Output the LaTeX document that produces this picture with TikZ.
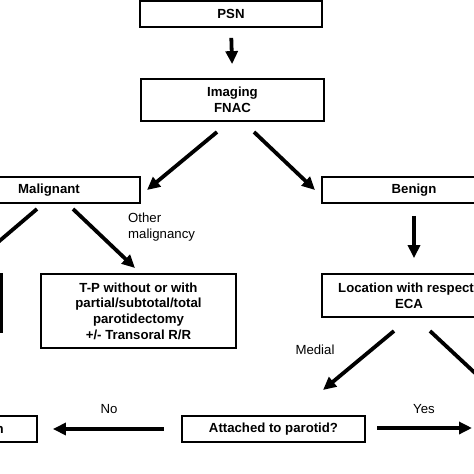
\documentclass[tikz,border=0pt]{standalone}
\usepackage{fontspec}
\setmainfont{Liberation Sans}
\usetikzlibrary{arrows.meta}
\begin{document}
\begin{tikzpicture}[x=1pt,y=-1pt,
  box/.style={draw,line width=1.8pt,inner sep=0pt,align=center,font=\fontsize{13.2}{15.7}\selectfont\bfseries},
  btxt/.style={font=\fontsize{13.2}{15.7}\selectfont\bfseries,inner sep=0pt},
  arr/.style={line width=3.8pt,-{Triangle[length=13pt,width=12pt]}},
  lbl/.style={font=\fontsize{13.2}{15.7}\selectfont,align=left,inner sep=0pt}]
\useasboundingbox (0,0) rectangle (474,474);
\clip (0,0) rectangle (474,474);
\fill[white] (0,0) rectangle (474,474);
% boxes
\node[box,minimum width=182pt,minimum height=26pt] (psn) at (231,14) {PSN};
\node[box,minimum width=183pt,minimum height=42pt] (img) at (232.5,100) {Imaging\\FNAC};
\node[box,minimum width=182pt,minimum height=26pt] (mal) at (49,190) {Malignant};
\node[box,minimum width=184pt,minimum height=26pt] (ben) at (414,190) {Benign};
\node[box,minimum width=195pt,minimum height=74pt] (tp) at (138.5,311) {T-P without or with\\partial/subtotal/total\\parotidectomy\\+/- Transoral R/R};
\node[box,minimum width=176pt,minimum height=43pt] (loc) at (410,295.5) {};
\node[btxt,anchor=base west] (loct) at (338,292.5) {Location with respect};
\node[btxt,anchor=base] (eca) at (409,308.5) {ECA};
\node[box,minimum width=183pt,minimum height=26pt] (att) at (273.5,429) {Attached to parotid?};
\node[box,minimum width=137pt,minimum height=26pt] (lb) at (-31.5,429) {};
\node[btxt,anchor=base east] (lbt) at (4,433.5) {n};
% partial thick edge at left
\coordinate (e1) at (1,273);
\coordinate (e2) at (1,333);
\draw[line width=3.8pt] (e1) -- (e2);
% arrows
\draw[arr,shorten <=10pt,shorten >=14pt] (psn.south) -- (img.north);
\coordinate (a1) at (217,132); \coordinate (a2) at (147,190);
\draw[arr] (a1) -- (a2);
\coordinate (b1) at (254,132); \coordinate (b2) at (315,190);
\draw[arr] (b1) -- (b2);
\coordinate (c1) at (37,209); \coordinate (c2) at (-10,249);
\draw[line width=3.8pt] (c1) -- (c2);
\coordinate (d1) at (73,209); \coordinate (d2) at (135,268);
\draw[arr] (d1) -- (d2);
\draw[arr,shorten <=12pt,shorten >=15pt] (ben.south) -- (loc.north -| ben.south);
\coordinate (m1) at (394,331); \coordinate (m2) at (323,390);
\draw[arr] (m1) -- (m2);
\coordinate (r1) at (430,331); \coordinate (r2) at (490,387);
\draw[line width=3.8pt] (r1) -- (r2);
\draw[arr,shorten <=17.5pt,shorten >=15pt] (att.west) -- (lb.east);
\coordinate (y2) at (472,428);
\draw[arr,shorten <=11.5pt] (att.east |- y2) -- (y2);
% labels
\node[lbl,anchor=north west] (om) at (128,213) {Other\\malignancy};
\node[lbl,anchor=base] (med) at (315,354) {Medial};
\node[lbl,anchor=base] (no) at (109,413) {No};
\node[lbl,anchor=base] (yes) at (424,413) {Yes};
\end{tikzpicture}
\end{document}
